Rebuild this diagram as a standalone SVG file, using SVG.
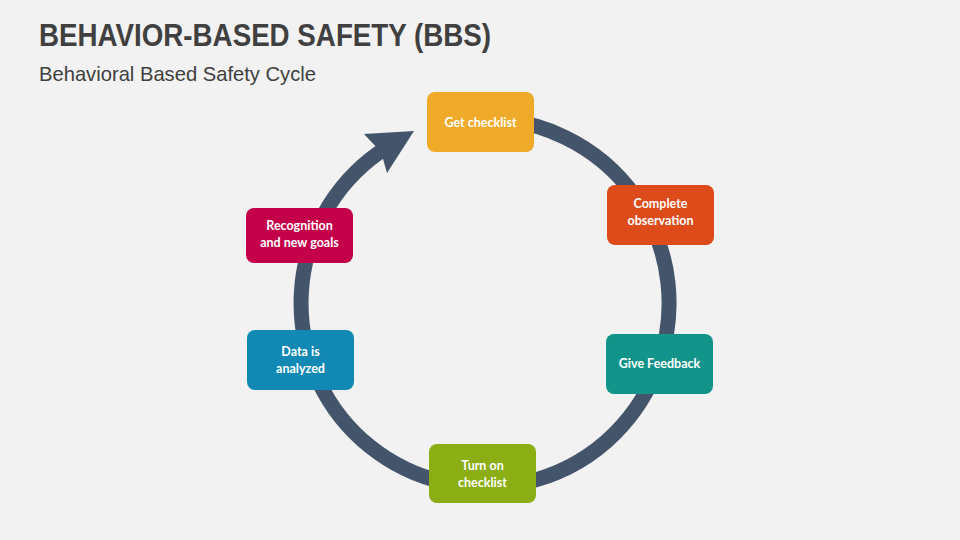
<svg xmlns="http://www.w3.org/2000/svg" width="960" height="540" viewBox="0 0 960 540">
<style>
.box{stroke:none}
.lbl{font-family:Lato,"Liberation Sans",sans-serif;font-weight:bold;font-size:12.5px;fill:#ffffff;text-anchor:middle}
.title{font-family:"Liberation Sans",Arial,sans-serif;font-weight:bold;font-size:32px;fill:#404040}
.sub{font-family:"Liberation Sans",Arial,sans-serif;font-size:21px;fill:#404040}
</style>
<rect width="960" height="540" fill="#f2f2f2"/>
<text class="title" x="39" y="46" textLength="452" lengthAdjust="spacingAndGlyphs">BEHAVIOR-BASED SAFETY (BBS)</text>
<text class="sub" x="39" y="81" textLength="277" lengthAdjust="spacingAndGlyphs">Behavioral Based Safety Cycle</text>
<g id="connectors">
<path d="M 485 119 A 184 184 0 1 1 387.5 147" fill="none" stroke="#44546a" stroke-width="15"/>
<polygon points="414,131 364,134 381,152 387,173" fill="#44546a"/>
</g>
<g id="node-get-checklist">
<rect class="box" x="427" y="92" width="107" height="60" rx="8" fill="#f0aa29"/>
<text class="lbl" x="480.5" y="126.5">Get checklist</text>
</g>
<g id="node-complete-observation">
<rect class="box" x="607" y="185" width="107" height="60" rx="8" fill="#dd4b1a"/>
<text class="lbl" x="660.5" y="208">Complete</text>
<text class="lbl" x="660.5" y="225">observation</text>
</g>
<g id="node-give-feedback">
<rect class="box" x="606" y="334" width="107" height="60" rx="8" fill="#13948a"/>
<text class="lbl" x="659.5" y="368">Give Feedback</text>
</g>
<g id="node-turn-on-checklist">
<rect class="box" x="429" y="444" width="107" height="59" rx="8" fill="#8aae14"/>
<text class="lbl" x="482.5" y="470">Turn on</text>
<text class="lbl" x="482.5" y="487">checklist</text>
</g>
<g id="node-data-analyzed">
<rect class="box" x="247" y="330" width="107" height="60" rx="8" fill="#1189b4"/>
<text class="lbl" x="300.5" y="356">Data is</text>
<text class="lbl" x="300.5" y="373">analyzed</text>
</g>
<g id="node-recognition">
<rect class="box" x="246" y="208" width="107" height="55" rx="8" fill="#c5004a"/>
<text class="lbl" x="299.5" y="230">Recognition</text>
<text class="lbl" x="299.5" y="247">and new goals</text>
</g>
</svg>
